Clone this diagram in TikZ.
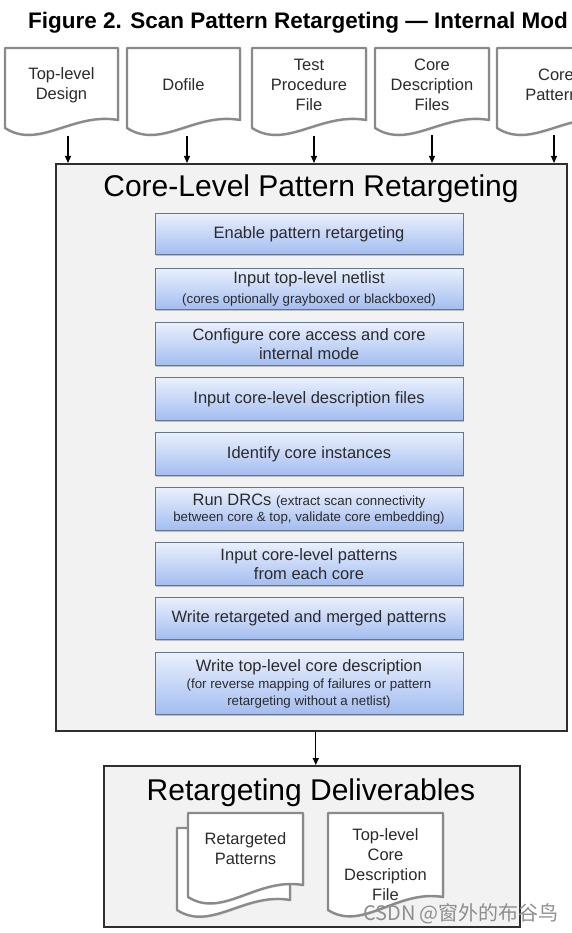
\documentclass[tikz,border=0pt]{standalone}
\usepackage{fontspec}
\setmainfont{Liberation Sans}
\newfontfamily\cjkfont{Noto Sans CJK SC}
\usetikzlibrary{shadows,arrows.meta}
\definecolor{stepTop}{HTML}{EAF0FC}
\definecolor{stepBot}{HTML}{A3BDF1}
\definecolor{stepBorder}{HTML}{66758F}
\definecolor{docLine}{HTML}{8A8A8A}
\definecolor{panelFill}{HTML}{F2F2F2}
\definecolor{panelLine}{HTML}{2E2E2E}
\definecolor{txt}{HTML}{2B2B2B}
\definecolor{wm}{HTML}{8E8E8E}

\tikzset{
  arr/.style={-{Triangle[length=7pt,width=6pt]}, line width=1.2pt, black},
  panel/.style={draw=panelLine, line width=1.6pt, fill=panelFill, anchor=north west, inner sep=0pt,
    drop shadow={opacity=0.25, shadow xshift=1.5pt, shadow yshift=-1.5pt}},
  stepbox/.style={draw=stepBorder, line width=0.8pt, top color=stepTop, bottom color=stepBot,
    minimum width=308pt, anchor=north, inner sep=0pt, align=center, text=txt,
    font=\fontsize{16.5}{19.5}\selectfont,
    drop shadow={opacity=0.45, shadow xshift=1pt, shadow yshift=-2pt}},
  doc/.style={draw=docLine, line width=2.4pt, fill=white, line join=round,
    drop shadow={opacity=0.15, shadow xshift=1.5pt, shadow yshift=-1.5pt}},
  doctext/.style={align=center, text=txt, font=\fontsize{16.5}{20}\selectfont, inner sep=0pt},
  paneltitle/.style={font=\fontsize{30}{34}\selectfont, text=black, inner sep=0pt, anchor=base},
}
\newcommand\smalltxt{\fontsize{13.3}{15}\selectfont}
% x0 y0 x1 yright yleft
\newcommand\mydoc[5]{%
  \draw[doc] (#1,#2) -- (#3,#2) -- (#3,#4)
    .. controls ({#1+0.6*(#3-#1)},{#4-8}) and ({#1+0.3*(#3-#1)},{#5+22}) .. (#1,#5) -- cycle;}

\begin{document}
\begin{tikzpicture}[x=1pt,y=-1pt]
\useasboundingbox (0,0) rectangle (572,933);
\fill[white] (0,0) rectangle (572,933);
\clip (0,0) rectangle (572,933);

% heading
\node[anchor=base west, inner sep=0pt, font=\bfseries\fontsize{22.5}{25}\selectfont] (title) at (28,29)
  {Figure 2. Scan Pattern Retargeting — Internal Mod};

% input documents
\mydoc{5}{48}{118}{120}{128}
\mydoc{127}{48}{240}{120}{128}
\mydoc{252}{48}{366}{120}{128}
\mydoc{375}{48}{489}{120}{128}
\mydoc{497}{48}{611}{120}{128}
\node[doctext] (d1) at (61.5,85) {Top-level\\Design};
\node[doctext] (d2) at (183.5,85) {Dofile};
\node[doctext] (d3) at (309,85) {Test\\Procedure\\File};
\node[doctext] (d4) at (432,85) {Core\\Description\\Files};
\node[doctext] (d5) at (556,85) {Core\\Patterns};
\coordinate (d1b) at (68,136);
\coordinate (d2b) at (187,136);
\coordinate (d3b) at (314,136);
\coordinate (d4b) at (432,135);
\coordinate (d5b) at (554,135);

% main panel
\node[panel, minimum width=511pt, minimum height=567pt] (main) at (55,163) {};
\node[paneltitle] (mtitle) at (311,197) {Core-Level Pattern Retargeting};

\foreach \c in {d1b,d2b,d3b,d4b,d5b}
  \draw[arr] (\c) -- (\c |- main.north);

% steps
\node[stepbox, minimum height=41pt] (s1) at (309,213) {Enable pattern retargeting};
\node[stepbox, minimum height=41pt] (s2) at (309,268)
  {Input top-level netlist\\[0pt]{\smalltxt (cores optionally grayboxed or blackboxed)}};
\node[stepbox, minimum height=43pt] (s3) at (309,322) {Configure core access and core\\internal mode};
\node[stepbox, minimum height=43pt] (s4) at (309,377) {Input core-level description files};
\node[stepbox, minimum height=43pt] (s5) at (309,432) {Identify core instances};
\node[stepbox, minimum height=43pt] (s6) at (309,487)
  {Run DRCs {\smalltxt (extract scan connectivity}\\[-4pt]{\smalltxt between core \& top, validate core embedding)}};
\node[stepbox, minimum height=43pt] (s7) at (309,542) {Input core-level patterns\\from each core};
\node[stepbox, minimum height=42pt] (s8) at (309,597) {Write retargeted and merged patterns};
\node[stepbox, minimum height=62pt] (s9) at (309,652)
  {Write top-level core description\\[-2.5pt]{\smalltxt (for reverse mapping of failures or pattern}\\[-2.5pt]{\smalltxt retargeting without a netlist)}};

% deliverables panel
\node[panel, minimum width=416pt, minimum height=161pt] (deliv) at (103,765) {};
\draw[arr] ([xshift=4.5pt]main.south) -- ([xshift=4.5pt]main.south |- deliv.north);
\node[paneltitle] (dtitle) at (311,800) {Retargeting Deliverables};

\mydoc{177}{828}{290}{900}{910}
\mydoc{188}{813}{303}{885}{897}
\mydoc{328}{813}{443}{897}{910}
\node[doctext] (r1) at (245.5,849) {Retargeted\\Patterns};
\node[doctext] (r2) at (385.5,865) {Top-level\\Core\\Description\\File};

% watermark
\node[inner sep=0pt, text=wm, font=\cjkfont\fontsize{20}{22}\selectfont] (wmark) at (461,914) {CSDN @窗外的布谷鸟};
\end{tikzpicture}
\end{document}
